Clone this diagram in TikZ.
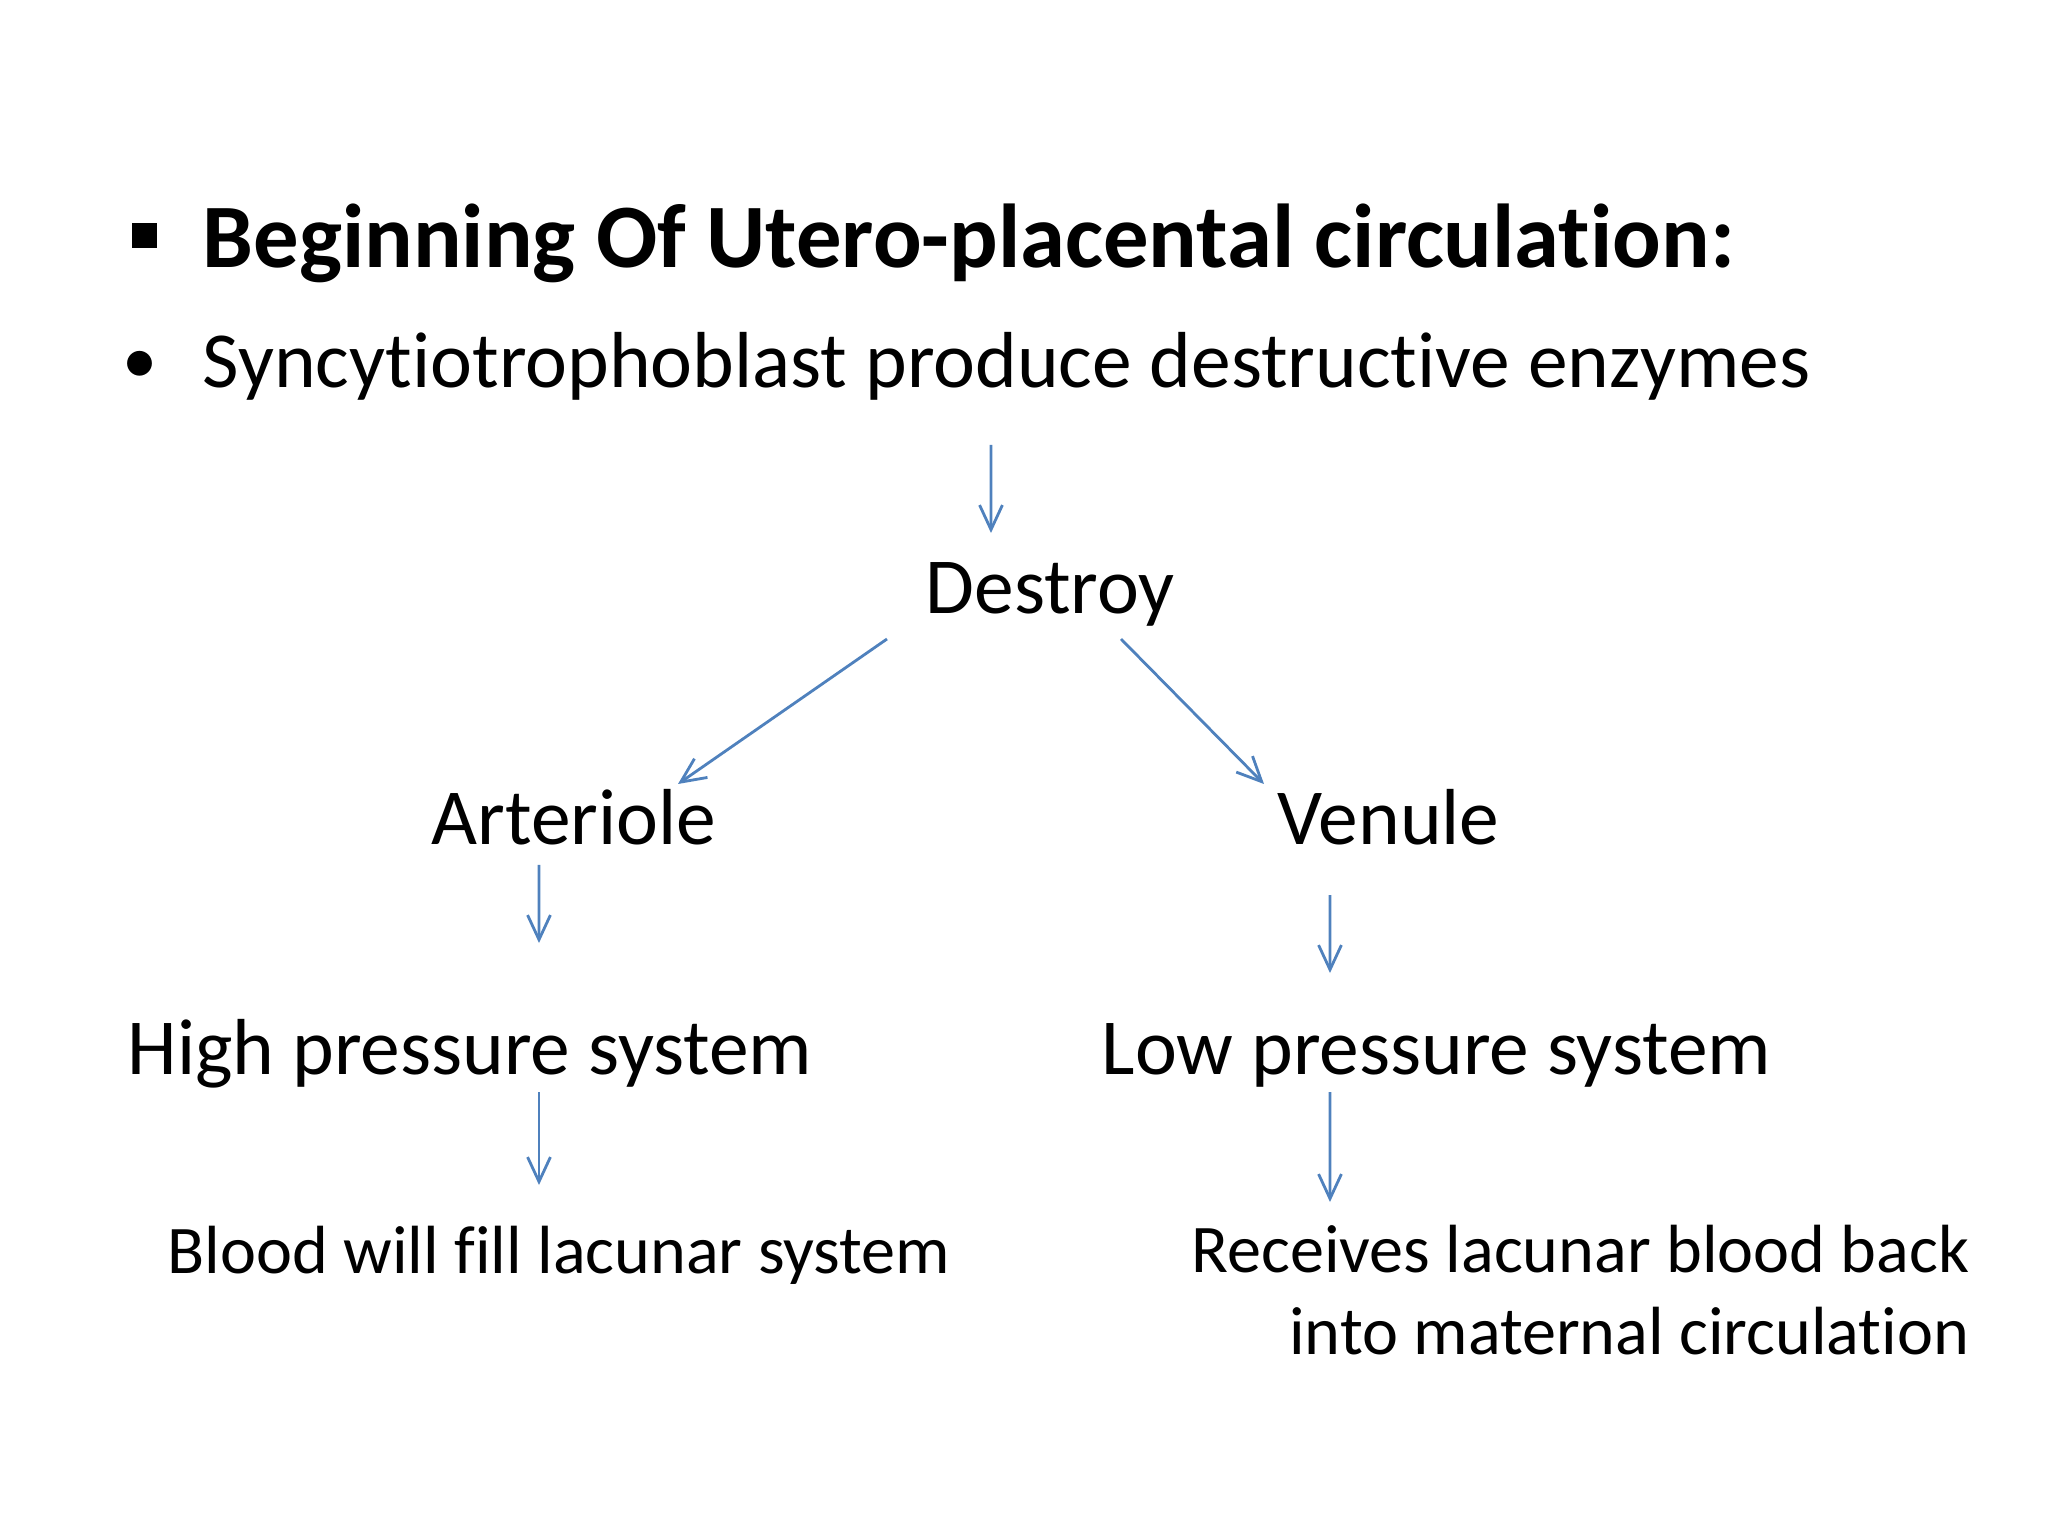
\documentclass[tikz,border=0pt]{standalone}
\usepackage{fontspec}
\setmainfont[Ligatures=NoCommon]{Carlito}
\usepackage{tikz}
\usetikzlibrary{arrows.meta, positioning, calc}
\definecolor{arrowblue}{RGB}{79,129,189}

\begin{document}
\begin{tikzpicture} [
    title_text/.style={inner sep=0, anchor=base west, font=\fontsize{25.8}{31}\selectfont\bfseries},
    body_text/.style={inner sep=0, anchor=base west, font=\fontsize{22.6}{27}\selectfont},
    small_text/.style={inner sep=0, anchor=base west, font=\fontsize{19.4}{23.3}\selectfont},
    line/.style={draw=arrowblue, line width=0.8pt, -{Straight Barb[length=7pt, width=6.5pt]}}
]
    \useasboundingbox (0,0) rectangle (20.48,-15.36);

    % Nodes
    \node[fill=black, inner sep=0, minimum size=0.25cm] (title_bullet) at (1.44,-2.36) {};
    \node[title_text] (title) at (2.02,-2.68) {Beginning Of Utero-placental circulation:};
    \node[body_text, font=\fontsize{20}{24}\selectfont] (enzymes_bullet) at (1.22,-3.84) {\textbullet};
    \node[body_text] (enzymes) at (2.02,-3.88) {Syncytiotrophoblast produce destructive enzymes};

    \node[body_text] (destroy) at (9.25,-6.14) {Destroy};
    \node[body_text] (arteriole) at (4.31,-8.45) {Arteriole};
    \node[body_text] (venule) at (12.77,-8.45) {Venule};

    \node[body_text] (high) at (1.27,-10.74) {High pressure system};
    \node[body_text] (low) at (11.01,-10.74) {Low pressure system};

    \node[small_text] (blood) at (1.67,-12.73) {Blood will fill lacunar system};
    \node[small_text, anchor=base east, align=right] (receives) at (19.70,-13.54) {Receives lacunar blood back\\into maternal circulation};

    % Arrows
    \path [line] ([shift={(7.89,-0.57)}]enzymes.base west) -- ([shift={(0.66,0.81)}]destroy.base west);
    \path [line] ([shift={(-0.38,-0.25)}]destroy.base west) -- ([shift={(2.47,0.61)}]arteriole.base west);
    \path [line] ([shift={(1.96,-0.25)}]destroy.base west) -- ([shift={(-0.13,0.61)}]venule.base west);
    \path [line] ([shift={(1.08,-0.20)}]arteriole.base west) -- ([shift={(4.12,1.31)}]high.base west);
    \path [line] ([shift={(0.53,-0.50)}]venule.base west) -- ([shift={(2.29,1.01)}]low.base west);
    \path [line] ([shift={(4.12,-0.18)}]high.base west) -- ([shift={(3.72,0.88)}]blood.base west);
    \path [line] ([shift={(2.29,-0.18)}]low.base west) -- ([shift={(-6.40,1.52)}]receives.base east);

\end{tikzpicture}
\end{document}
